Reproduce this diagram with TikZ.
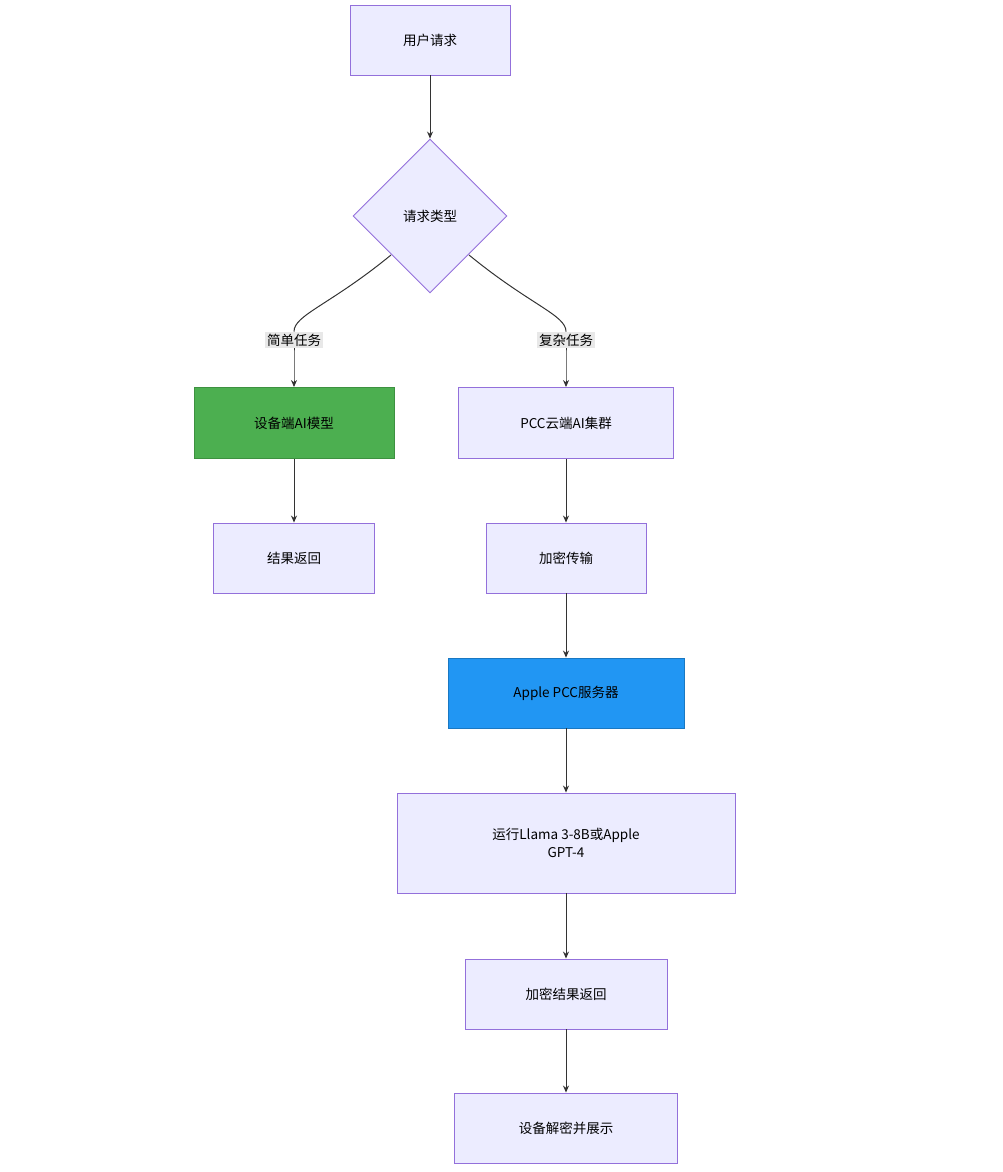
\documentclass[tikz,border=0pt]{standalone}
\usepackage{fontspec}
\setmainfont{Noto Sans CJK SC}
\usetikzlibrary{shapes.geometric,arrows.meta}
\begin{document}
\begin{tikzpicture}[x=1pt,y=-1pt,
  box/.style={draw=#1,line width=0.9pt,fill=boxfill,align=center,font=\fontsize{13.5}{18}\selectfont,inner sep=0pt},
  box/.default=boxline,
  lbl/.style={fill=lblfill,font=\fontsize{13.5}{18}\selectfont,inner sep=2pt},
  arr/.style={-{Stealth[length=7pt,width=6pt]},line width=1pt,draw=arrc}]
\definecolor{boxfill}{HTML}{ECECFF}
\definecolor{boxline}{HTML}{9370DB}
\definecolor{lblfill}{HTML}{E8E8E8}
\definecolor{arrc}{HTML}{333333}
\definecolor{gfill}{HTML}{4CAF50}
\definecolor{gline}{HTML}{3D9140}
\definecolor{bfill}{HTML}{2196F3}
\definecolor{bline}{HTML}{1A78C2}
\useasboundingbox (0,0) rectangle (1002,1172);
\node[box,minimum width=160pt,minimum height=70pt] (a) at (430,40) {用户请求};
\node[box,diamond,minimum width=154pt,minimum height=154pt] (b) at (430,216) {请求类型};
\node[box=gline,fill=gfill,minimum width=200pt,minimum height=71pt] (c) at (294,423) {设备端AI模型};
\node[box,minimum width=215pt,minimum height=71pt] (d) at (566,423) {PCC云端AI集群};
\node[box,minimum width=161pt,minimum height=70pt] (e) at (294,558) {结果返回};
\node[box,minimum width=160pt,minimum height=70pt] (f) at (566,558) {加密传输};
\node[box=bline,fill=bfill,minimum width=236pt,minimum height=70pt] (g) at (566,693) {Apple PCC服务器};
\node[box,minimum width=338pt,minimum height=100pt] (h) at (566,843) {运行Llama 3-8B或Apple\\GPT-4};
\node[box,minimum width=202pt,minimum height=70pt] (i) at (566,994) {加密结果返回};
\node[box,minimum width=223pt,minimum height=70pt] (j) at (566,1128) {设备解密并展示};
\node[lbl] (l1) at (294,340) {简单任务};
\node[lbl] (l2) at (566,340) {复杂任务};
\coordinate (bl) at (391,255);
\coordinate (br) at (469,255);
\draw[arr] (a) -- (b);
\draw[line width=1pt,draw=arrc] (bl) .. controls (330,305) and (294,315) .. (l1.north);
\draw[arr] (l1.south) .. controls (294,370) .. (c.north);
\draw[line width=1pt,draw=arrc] (br) .. controls (530,305) and (566,315) .. (l2.north);
\draw[arr] (l2.south) .. controls (566,370) .. (d.north);
\draw[arr] (c) -- (e);
\draw[arr] (d) -- (f);
\draw[arr] (f) -- (g);
\draw[arr] (g) -- (h);
\draw[arr] (h) -- (i);
\draw[arr] (i) -- (j);
\end{tikzpicture}
\end{document}
